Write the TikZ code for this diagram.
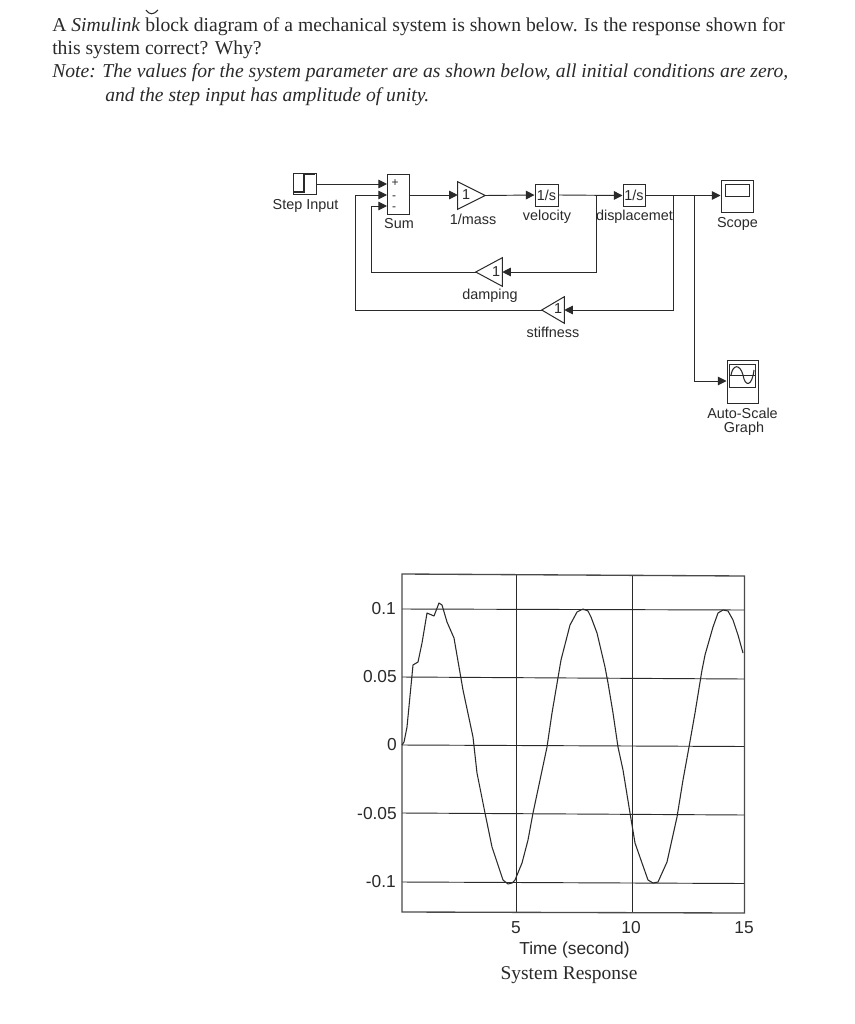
\documentclass[tikz,border=0pt]{standalone}
\usepackage{fontspec}
\setmainfont{Liberation Serif}
\setsansfont{Liberation Sans}
\usetikzlibrary{arrows.meta}
\definecolor{ink}{HTML}{2A2A2A}
\definecolor{frame}{HTML}{4A4A4A}
\tikzset{
  body/.style={anchor=base west,inner sep=0,font=\fontsize{14.73}{16}\selectfont,text=ink},
  lab/.style={anchor=base,inner sep=0,font=\sffamily\fontsize{10.8}{12}\selectfont,text=ink},
  sign/.style={anchor=base,inner sep=0,font=\sffamily\fontsize{9}{9}\selectfont,text=ink},
  tick/.style={inner sep=0,font=\sffamily\fontsize{13}{15}\selectfont,text=ink},
  blk/.style 2 args={draw=ink,line width=.75pt,fill=white,inner sep=0,text=ink,font=\sffamily\fontsize{10.8}{12}\selectfont,minimum width=#1*0.75pt,minimum height=#2*0.75pt},
  gain/.style 2 args={inner sep=0,minimum width=#1*0.75pt,minimum height=#2*0.75pt},
  wire/.style={draw=ink,line width=.7pt},
  arr/.style={wire,-{Triangle[length=6.5pt,width=6.5pt]}},
  grid line/.style={draw=ink,line width=.7pt},
  frame line/.style={draw=frame,line width=1pt},
  curve/.style={draw=ink,line width=.8pt,line join=round}
}
\begin{document}
\begin{tikzpicture}[x=0.75pt,y=-0.75pt]
\useasboundingbox (0,0) rectangle (855,1024);
\fill[white] (0,0) rectangle (855,1024);

% header text
\draw[ink,line width=.8pt] (146,10) .. controls (149,15) and (154,15) .. (158,10);
\node[body] (t1) at (52,32) {A \textit{Simulink} block diagram of a mechanical system is shown below. Is the response shown for};
\node[body] (t2) at (52,55) {this system correct? Why?};
\node[body] (t3) at (52,78) {\textit{Note: The values for the system parameter are as shown below, all initial conditions are zero,}};
\node[body] (t4) at (105,102) {\textit{and the step input has amplitude of unity.}};

% blocks
\node[blk={23}{21}] (step) at (304.5,183.5) {};
\draw[ink,line width=.8pt] (294,192) -- (304,192) -- (304,174) -- (315,174);
\node[lab] (stepL) at (305.5,209) {Step Input};

\node[blk={22}{40}] (sum) at (398,194.5) {};
\node[sign] (sp) at (395,186) {+};
\node[sign] (sm1) at (394,199) {-};
\node[sign] (sm2) at (394,210) {-};
\node[lab] (sumL) at (399,228) {Sum};
\coordinate (in1) at (387,184);
\coordinate (in2) at (387,195);
\coordinate (in3) at (387,206);

\node[gain={27}{27}] (mass) at (471.5,195.5) {};
\draw[ink,line width=.75pt] (mass.north west) -- (mass.east) -- (mass.south west) -- cycle;
\node[lab] (massT) at (466,199) {1};
\node[lab] (massL) at (473,224) {1/mass};

\node[blk={23}{22}] (vel) at (546.5,195) {1/s};
\node[blk={22}{22}] (disp) at (634,195.5) {1/s};
\node[lab] (velL) at (547,220) {velocity};
\node[lab] (dispL) at (634.5,220) {displacemet};

\node[gain={26}{28}] (damp) at (489,272) {};
\draw[ink,line width=.75pt] (damp.north east) -- (damp.west) -- (damp.south east) -- cycle;
\node[lab] (dampT) at (496,276) {1};
\node[lab] (dampL) at (490,299) {damping};

\node[gain={22}{26}] (stiff) at (553,310) {};
\draw[ink,line width=.75pt] (stiff.north east) -- (stiff.west) -- (stiff.south east) -- cycle;
\node[lab] (stiffT) at (558,313) {1};
\node[lab] (stiffL) at (553,337) {stiffness};

\node[blk={32}{32}] (scope) at (737,196) {};
\draw[ink,line width=.75pt,fill=white] (725,184) rectangle (749,196);
\node[lab] (scopeL) at (737.5,227) {Scope};

\node[blk={31}{43}] (graph) at (742.5,381.5) {};
\draw[ink,line width=.75pt] (729,364) rectangle (755,387);
\draw[ink,line width=.6pt] (729,375) -- (755,375);
\draw[ink,line width=.8pt] (731,375) .. controls (733,364) and (740,364) .. (743,375) .. controls (745,387) and (752,387) .. (754,370);
\node[lab] (graphL1) at (742.5,418) {Auto-Scale};
\node[lab] (graphL2) at (744,432) {Graph};

% connectors
\coordinate (b1) at (596,195);
\coordinate (b2) at (673,195.5);
\coordinate (b3) at (694,195.5);
\coordinate (k1) at (355,310);
\coordinate (k2) at (371,272);
\draw[arr] (step.east |- in1) -- (in1);
\draw[arr] (sum.east |- in2) -- (mass.west |- in2);
\draw[arr] (mass.east) -- (vel.west);
\draw[arr] (vel.east) -- (disp.west);
\draw[arr] (disp.east) -- (scope.west |- b2);
\draw[arr] (b1) -- (b1 |- damp.east) -- (damp.east);
\draw[arr] (b2) -- (b2 |- stiff.east) -- (stiff.east);
\draw[arr] (b3) -- (b3 |- 0,381) -- (graph.west |- 0,381);
\draw[arr] (damp.west) -- (k2) -- (k2 |- in3) -- (in3);
\draw[arr] (stiff.west) -- (k1) -- (k1 |- in2) -- (in2);

% plot
\coordinate (pNW) at (402,574);
\coordinate (pNE) at (744.5,576);
\coordinate (pSE) at (744.5,913);
\coordinate (pSW) at (402,912);
\draw[grid line] (402,609) -- (744.5,610);
\draw[grid line] (402,677) -- (744.5,679);
\draw[grid line] (402,745) -- (744.5,746.5);
\draw[grid line] (402,813) -- (744.5,815);
\draw[grid line] (402,882) -- (744.5,883.5);
\draw[grid line] (516,575) -- (516,912);
\draw[grid line] (632,575) -- (632,913);
\draw[frame line] (pNW) -- (pNE) -- (pSE) -- (pSW) -- cycle;
\draw[curve] (402,745) -- (404,742) -- (407,727) -- (413,665) -- (418,662) -- (422,643) -- (427,613) -- (434,616) -- (439,603) -- (442,605) -- (447,622) -- (454,638) -- (463,690) -- (473,737) -- (477,773) -- (485,813) -- (492,847) -- (498,865) -- (503,880) -- (508,884) -- (512,883) -- (515,880) -- (522,863) -- (528,840) -- (533,813) -- (540,780) -- (547,747) -- (552,713) -- (561,660) -- (570,625) -- (577,612) -- (583,609) -- (588,611) -- (591,617) -- (597,633) -- (605,667) -- (608,683) -- (613,713) -- (618,747) -- (623,770) -- (630,813) -- (635,843) -- (642,863) -- (648,880) -- (653,883) -- (658,882) -- (667,862) -- (677,817) -- (683,780) -- (689,747) -- (695,713) -- (702,670) -- (705,655) -- (713,627) -- (718,613) -- (723,610) -- (728,611) -- (733,620) -- (738,635) -- (743,653);

\node[tick,anchor=base east] (y1) at (396,614) {0.1};
\node[tick,anchor=base east] (y2) at (397,682) {0.05};
\node[tick,anchor=base east] (y3) at (397,750) {0};
\node[tick,anchor=base east] (y4) at (397,819) {-0.05};
\node[tick,anchor=base east] (y5) at (396,887) {-0.1};
\node[tick,anchor=base] (x1) at (516,933) {5};
\node[tick,anchor=base] (x2) at (631,933) {10};
\node[tick,anchor=base] (x3) at (744,933) {15};
\node[tick,anchor=base] (xl) at (574.5,954) {Time (second)};
\node[anchor=base,inner sep=0,font=\fontsize{14.6}{16}\selectfont,text=ink] (cap) at (569,979) {System Response};
\end{tikzpicture}
\end{document}
